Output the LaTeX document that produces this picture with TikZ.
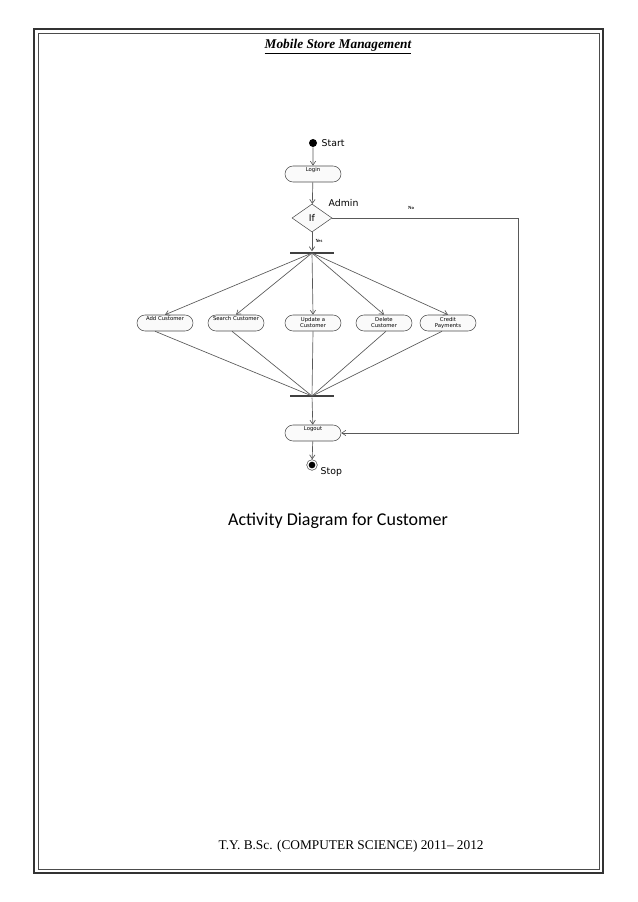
\documentclass[tikz,border=0pt]{standalone}
\usepackage{fontspec}
\setmainfont{Liberation Serif}
\newfontfamily\calfont{Carlito}
\newfontfamily\djfont{DejaVu Sans}
\usetikzlibrary{shapes.geometric,shapes.misc,arrows.meta}
\begin{document}
\begin{tikzpicture}[x=0.75pt,y=-0.75pt,
  act/.style={draw=black!70,fill=gray!4,rounded rectangle,minimum width=42pt,minimum height=12pt,inner sep=0pt,font=\djfont\fontsize{4}{4.5}\selectfont,align=center},
  bar/.style={fill=black!75,minimum width=33pt,minimum height=2.2pt,inner sep=0pt},
  flow/.style={draw=black!65,line width=0.5pt,-{Straight Barb[length=3pt,width=4pt]}},
  plain/.style={draw=black!65,line width=0.5pt}]
\useasboundingbox (0,0) rectangle (638,902);
\draw[line width=2pt,black!80] (34,29) rectangle (603,873);
\draw[line width=0.6pt,black!70] (38,33) rectangle (599,869);
\node[font=\bfseries\itshape\fontsize{10}{12}\selectfont] (title) at (338,47) {\underline{Mobile Store Management}};
\node[font=\fontsize{10}{12}\selectfont,anchor=west] (foot) at (214,846) {T.Y. B.Sc. (COMPUTER SCIENCE) 2011– 2012};
\node[font=\calfont\fontsize{13.5}{16}\selectfont] (cap) at (338,521) {Activity Diagram for Customer};

\node[circle,fill=black,minimum size=6pt,inner sep=0pt] (start) at (313,143) {};
\node[anchor=west,font=\djfont\fontsize{7}{8}\selectfont] (startl) at (317,143) {Start};
\node[act] (login) at (313,174) {Login\\[2pt]};
\node[diamond,draw=black!70,fill=gray!4,minimum width=30pt,minimum height=21pt,inner sep=0pt,font=\djfont\fontsize{7}{8}\selectfont] (if) at (312,218) {If};
\node[anchor=west,font=\djfont\fontsize{7}{8}\selectfont] (admin) at (324,203) {Admin};
\node[font=\bfseries\fontsize{3.5}{4}\selectfont] (no) at (411,208) {No};
\node[font=\bfseries\fontsize{3.5}{4}\selectfont] (yes) at (319,241) {Yes};
\node[bar] (fork) at (312,253) {};
\node[act] (a1) at (165,323) {Add Customer\\[3pt]};
\node[act] (a2) at (236,323) {Search Customer\\[3pt]};
\node[act] (a3) at (313,323) {Update a\\Customer};
\node[act] (a4) at (384,323) {Delete\\Customer};
\node[act] (a5) at (448,323) {Credit\\Payments};
\node[bar] (join) at (312,396) {};
\node[act] (logout) at (313,433) {Logout\\[2pt]};
\node[circle,draw=black!70,minimum size=8pt,inner sep=0pt] (stop) at (312,465) {};
\node[circle,fill=black,minimum size=5pt,inner sep=0pt] at (stop) {};
\node[anchor=west,font=\djfont\fontsize{7}{8}\selectfont] (stopl) at (316,472) {Stop};
\coordinate (c1) at (518,218);
\coordinate (c2) at (518,433);

\draw[flow] (start) -- (login);
\draw[flow] (login) -- (if);
\draw[flow] (if) -- (fork);
\foreach \a in {a1,a2,a3,a4,a5} {\draw[flow] (fork.center) -- (\a.north);}
\draw[plain] (a1.south) ++(-10,0) -- (join.center);
\draw[plain] (a2.south) ++(-4,0) -- (join.center);
\draw[plain] (a3.south) -- (join.center);
\draw[plain] (a4.south) ++(2,0) -- (join.center);
\draw[plain] (a5.south) ++(-6,0) -- (join.center);
\draw[flow] (join) -- (logout);
\draw[flow] (logout) -- (stop);
\draw[flow] (if.east) -- (c1) -- (c2) -- (logout.east);
\end{tikzpicture}
\end{document}
